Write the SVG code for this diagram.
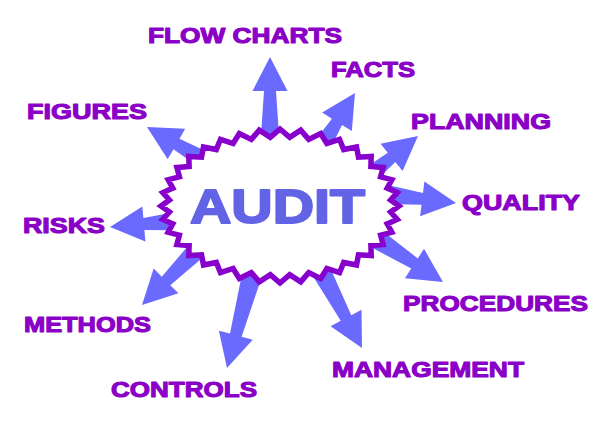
<svg xmlns="http://www.w3.org/2000/svg" width="600" height="428" viewBox="0 0 600 428">
<style>
.lbl{font-family:"Liberation Sans",Arial,sans-serif;font-weight:bold;font-size:22px;fill:#8a00c6;stroke:#8a00c6;stroke-width:1.1;stroke-linejoin:round}
.arr{fill:#6a6aff}
.zig{fill:#ffffff;stroke:#8800cc;stroke-width:5.5;stroke-linejoin:miter}
.main{font-family:"Liberation Sans",Arial,sans-serif;font-weight:bold;font-size:49px;fill:#6363e6;stroke:#6363e6;stroke-width:2;stroke-linejoin:round}
</style>
<rect width="600" height="428" fill="#ffffff"/>
<g id="connectors">
<polygon class="arr" transform="translate(270,57) rotate(-90)" points="0,0 -34,-17.5 -34,-6 -100,-10.5 -100,10.5 -34,6 -34,17.5"/>
<polygon class="arr" transform="translate(355,93) rotate(-58)" points="0,0 -34,-17.5 -34,-6 -80,-10.5 -80,10.5 -34,6 -34,17.5"/>
<polygon class="arr" transform="translate(147,127) rotate(-150)" points="0,0 -34,-17.5 -34,-6 -85,-10.5 -85,10.5 -34,6 -34,17.5"/>
<polygon class="arr" transform="translate(110,227) rotate(175)" points="0,0 -34,-17.5 -34,-6 -80,-10.5 -80,10.5 -34,6 -34,17.5"/>
<polygon class="arr" transform="translate(418,136) rotate(-39)" points="0,0 -34,-17.5 -34,-6 -85,-10.5 -85,10.5 -34,6 -34,17.5"/>
<polygon class="arr" transform="translate(456,203) rotate(7)" points="0,0 -34,-17.5 -34,-6 -80,-10.5 -80,10.5 -34,6 -34,17.5"/>
<polygon class="arr" transform="translate(443,282) rotate(33)" points="0,0 -34,-17.5 -34,-6 -85,-10.5 -85,10.5 -34,6 -34,17.5"/>
<polygon class="arr" transform="translate(362,348) rotate(62)" points="0,0 -34,-17.5 -34,-6 -100,-10.5 -100,10.5 -34,6 -34,17.5"/>
<polygon class="arr" transform="translate(227,368) rotate(105)" points="0,0 -34,-17.5 -34,-6 -105,-10.5 -105,10.5 -34,6 -34,17.5"/>
<polygon class="arr" transform="translate(142,305) rotate(135)" points="0,0 -34,-17.5 -34,-6 -90,-10.5 -90,10.5 -34,6 -34,17.5"/>
</g>
<g id="audit">
<polygon class="zig" transform="translate(280,206)" points="119,0 110.6,-6 117.2,-13.4 107.2,-17.9 111.8,-26.3 100.6,-29.2 103.1,-38.5 90.9,-39.6 91.2,-49.5 78.5,-48.8 76.5,-59 63.7,-56.5 59.5,-66.7 46.9,-62.5 40.7,-72.4 28.7,-66.6 20.7,-75.8 9.7,-68.7 0,-77 -9.7,-68.7 -20.7,-75.8 -28.7,-66.6 -40.7,-72.4 -46.9,-62.5 -59.5,-66.7 -63.7,-56.5 -76.5,-59 -78.5,-48.8 -91.2,-49.5 -90.9,-39.6 -103.1,-38.5 -100.6,-29.2 -111.8,-26.3 -107.2,-17.9 -117.2,-13.4 -110.6,-6 -119,0 -110.6,6 -117.2,13.4 -107.2,17.9 -111.8,26.3 -100.6,29.2 -103.1,38.5 -90.9,39.6 -91.2,49.5 -78.5,48.8 -76.5,59 -63.7,56.5 -59.5,66.7 -46.9,62.5 -40.7,72.4 -28.7,66.6 -20.7,75.8 -9.7,68.7 0,77 9.7,68.7 20.7,75.8 28.7,66.6 40.7,72.4 46.9,62.5 59.5,66.7 63.7,56.5 76.5,59 78.5,48.8 91.2,49.5 90.9,39.6 103.1,38.5 100.6,29.2 111.8,26.3 107.2,17.9 117.2,13.4 110.6,6"/>
<text class="main" x="190" y="223" textLength="175" lengthAdjust="spacingAndGlyphs">AUDIT</text>
</g>
<g id="flow-charts"><text class="lbl" x="148" y="43" textLength="194" lengthAdjust="spacingAndGlyphs">FLOW CHARTS</text></g>
<g id="facts"><text class="lbl" x="331" y="77" textLength="84" lengthAdjust="spacingAndGlyphs">FACTS</text></g>
<g id="figures"><text class="lbl" x="27" y="119" textLength="120" lengthAdjust="spacingAndGlyphs">FIGURES</text></g>
<g id="planning"><text class="lbl" x="411" y="129" textLength="140" lengthAdjust="spacingAndGlyphs">PLANNING</text></g>
<g id="quality"><text class="lbl" x="462" y="210" textLength="118" lengthAdjust="spacingAndGlyphs">QUALITY</text></g>
<g id="risks"><text class="lbl" x="23" y="233" textLength="82" lengthAdjust="spacingAndGlyphs">RISKS</text></g>
<g id="procedures"><text class="lbl" x="403" y="311" textLength="185" lengthAdjust="spacingAndGlyphs">PROCEDURES</text></g>
<g id="methods"><text class="lbl" x="24" y="332" textLength="127" lengthAdjust="spacingAndGlyphs">METHODS</text></g>
<g id="management"><text class="lbl" x="332" y="377" textLength="192" lengthAdjust="spacingAndGlyphs">MANAGEMENT</text></g>
<g id="controls"><text class="lbl" x="111" y="397" textLength="146" lengthAdjust="spacingAndGlyphs">CONTROLS</text></g>
</svg>
